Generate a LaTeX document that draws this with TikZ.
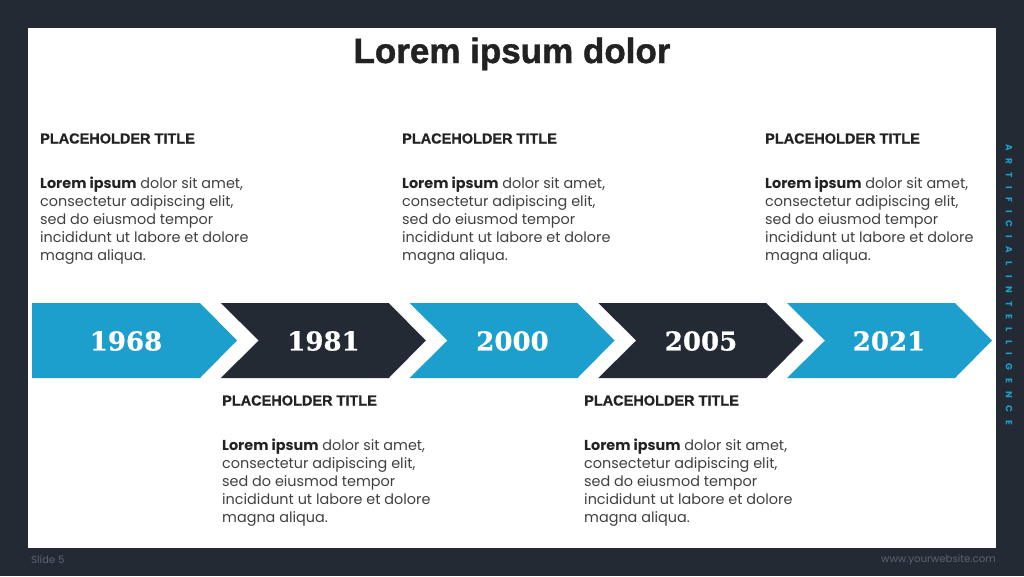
\documentclass[tikz,border=0pt]{standalone}
\usepackage{fontspec}
\setmainfont{Poppins}
\newfontfamily\yearfont[BoldFeatures={FakeBold=0.6}]{DejaVu Serif}
\newfontfamily\headfont[BoldFeatures={FakeBold=0.8}]{Liberation Sans}
\newfontfamily\bigheadfont[BoldFeatures={FakeBold=1.2}]{Liberation Sans}
\newfontfamily\spacedfont[LetterSpace=90]{Poppins}
\definecolor{bgdark}{HTML}{232A33}
\definecolor{tlblue}{HTML}{1D9FCE}
\definecolor{bodygray}{HTML}{404040}
\definecolor{titledark}{HTML}{222222}
\definecolor{footgray}{HTML}{5A6470}
\tikzset{
  yearlabel/.style={text=white,font=\yearfont\bfseries\fontsize{26}{26}\selectfont,inner sep=0pt},
  phtitle/.style={anchor=base west,inner sep=0pt,text=titledark,font=\headfont\bfseries\fontsize{14.5}{16}\selectfont},
  phbody/.style={anchor=base west,inner sep=0pt,align=left,text=bodygray,font=\fontsize{14.4}{18}\selectfont},
  foot/.style={inner sep=0pt,text=footgray,font=\fontsize{10.2}{12}\selectfont}
}
\newcommand\bodytext{\textbf{\color{titledark}Lorem ipsum} dolor sit amet,\\consectetur adipiscing elit,\\sed do eiusmod tempor\\incididunt ut labore et dolore\\magna aliqua.}
\begin{document}
\begin{tikzpicture}[x=1pt,y=-1pt]
\useasboundingbox (0,0) rectangle (1024,576);
\fill[bgdark] (0,0) rectangle (1024,576);
\fill[white] (28,28) rectangle (996,548);
% title
\node[inner sep=0pt,anchor=base,text=titledark,font=\bigheadfont\bfseries\fontsize{35}{40}\selectfont] (title) at (512,63) {Lorem ipsum dolor};
% chevrons
\fill[tlblue] (32,303) -- (200,303) -- (237,340.5) -- (200,378) -- (32,378) -- cycle;
\foreach \xo/\col in {220.75/bgdark,409.5/tlblue,598.25/bgdark,787/tlblue}{
  \fill[\col] (\xo,303) -- ({\xo+168},303) -- ({\xo+205},340.5) -- ({\xo+168},378) -- (\xo,378) -- ({\xo+38},340.5) -- cycle;
}
\node[yearlabel] (y1968) at (126,341) {1968};
\node[yearlabel] (y1981) at (323.5,341) {1981};
\node[yearlabel] (y2000) at (512.5,341) {2000};
\node[yearlabel] (y2005) at (701,341) {2005};
\node[yearlabel] (y2021) at (889,341) {2021};
% top blocks (anchor = baseline of last line)
\node[phtitle] (t1) at (40,143.5) {PLACEHOLDER TITLE};
\node[phbody] (b1) at (40,260) {\bodytext};
\node[phtitle] (t3) at (402,143.5) {PLACEHOLDER TITLE};
\node[phbody] (b3) at (402,260) {\bodytext};
\node[phtitle] (t5) at (765,143.5) {PLACEHOLDER TITLE};
\node[phbody] (b5) at (765,260) {\bodytext};
% bottom blocks
\node[phtitle] (t2) at (222,405.5) {PLACEHOLDER TITLE};
\node[phbody] (b2) at (222,522) {\bodytext};
\node[phtitle] (t4) at (584,405.5) {PLACEHOLDER TITLE};
\node[phbody] (b4) at (584,522) {\bodytext};
% side text
\node[rotate=-90,inner sep=0pt,text=tlblue,font=\spacedfont\bfseries\fontsize{9}{9}\selectfont] (side) at (1009,285) {ARTIFICIAL INTELLIGENCE};
% footer
\node[foot,anchor=west] (slide) at (31,560) {Slide 5};
\node[foot,anchor=east] (web) at (996,560) {www.yourwebsite.com};
\end{tikzpicture}
\end{document}
